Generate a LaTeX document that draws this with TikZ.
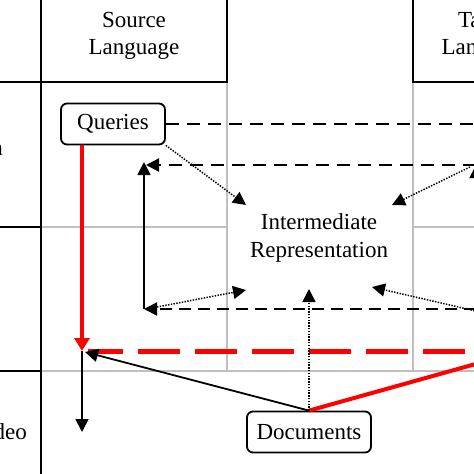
\documentclass[tikz,border=0pt]{standalone}
\usepackage{fontspec}
\setmainfont{Liberation Serif}
\usetikzlibrary{arrows.meta}
\begin{document}
\begin{tikzpicture}[x=1pt,y=-1pt,
  txt/.style={font=\fontsize{23}{27.5}\selectfont, align=center, inner sep=0pt},
  box/.style={draw, rounded corners=6pt, line width=1.8pt, txt},
  gridline/.style={draw=gray!50, line width=1.3pt},
  frame/.style={line width=1.8pt},
  tip/.style={-{Triangle[length=13pt,width=13pt]}},
  dsh/.style={line width=2.2pt, dash pattern=on 13pt off 8pt},
  dsh2/.style={line width=1.9pt, dash pattern=on 12pt off 7pt},
  dot/.style={line width=1.5pt, dash pattern=on 1.4pt off 1.4pt},
  redthick/.style={red, line width=4.5pt}
]
\useasboundingbox (0,0) rectangle (474,474);
% grid
\draw[gridline] (227,82) -- (227,371);
\draw[gridline] (413,82) -- (413,371);
\draw[gridline] (41,227) -- (227,227);
\draw[gridline] (413,227) -- (490,227);
\draw[gridline] (41,371) -- (490,371);
% frame
\draw[frame] (41,-5) -- (41,480);
\draw[frame] (0,82) -- (41,82);
\draw[frame] (0,227) -- (41,227);
\draw[frame] (0,371) -- (41,371);
\draw[frame] (41,82) -- (227,82) -- (227,-5);
\draw[frame] (413,-5) -- (413,82) -- (490,82);
% texts
\node[txt] (src) at (134,36) {Source\\Language};
\node[txt] (tgt) at (487,36) {Target\\Language};
\node[txt, anchor=base east] (lab1) at (3,155) {n};
\node[txt, anchor=base east] (lab3) at (27,439) {Video};
\node[txt] (ir) at (319,238) {Intermediate\\Representation};
\node[box, minimum width=104pt, minimum height=41pt] (queries) at (113,124) {Queries};
\node[box, minimum width=124pt, minimum height=41pt] (docs) at (309,432) {Documents};
% coordinates
\coordinate (rc) at (82,351);
\coordinate (rcd) at (82,432);
\coordinate (rcb) at (85,352);
\coordinate (rdash) at (88,351);
\coordinate (rdashend) at (490,351);
\coordinate (redend) at (490,360);
\coordinate (tl) at (144,162);
\coordinate (tlh) at (146,165);
\coordinate (bl) at (144,309);
\coordinate (bld) at (157,307);
\coordinate (tr) at (476,165);
\coordinate (trd) at (470,167);
\coordinate (brc) at (476,309);
\coordinate (brd) at (480,312);
\coordinate (irtl) at (246,205);
\coordinate (irtr) at (392,205);
\coordinate (irbl) at (246,290);
\coordinate (irb) at (309,289);
\coordinate (irbr) at (372,287);
\coordinate (qend) at (490,124);
% red path
\draw[redthick, -{Triangle[length=13pt,width=15pt]}] (queries.south -| rc) -- (rc);
\draw[red, line width=5pt, dash pattern=on 42pt off 15pt, dash phase=7pt] (rdash) -- (rdashend);
\draw[red, line width=4pt] (docs.north) -- (redend);
% black solid
\draw[frame, tip] (docs.north) -- (rcb);
\draw[frame, tip] (rc) -- (rcd);
\draw[frame, tip] (bl) -- (tl);
\draw[frame, tip] (brc) -- (tr);
% dashed
\draw[dsh] (queries.east) -- (qend);
\draw[dsh, tip] (tr) -- (tlh);
\draw[dsh2, tip] (brc) -- (bl);
% dotted
\draw[dot, tip] (docs.north) -- (irb);
\draw[dot, tip] (queries.south east) -- (irtl);
\draw[dot, tip] (bld) -- (irbl);
\draw[dot, tip] (trd) -- (irtr);
\draw[dot, tip] (brd) -- (irbr);
\end{tikzpicture}
\end{document}
